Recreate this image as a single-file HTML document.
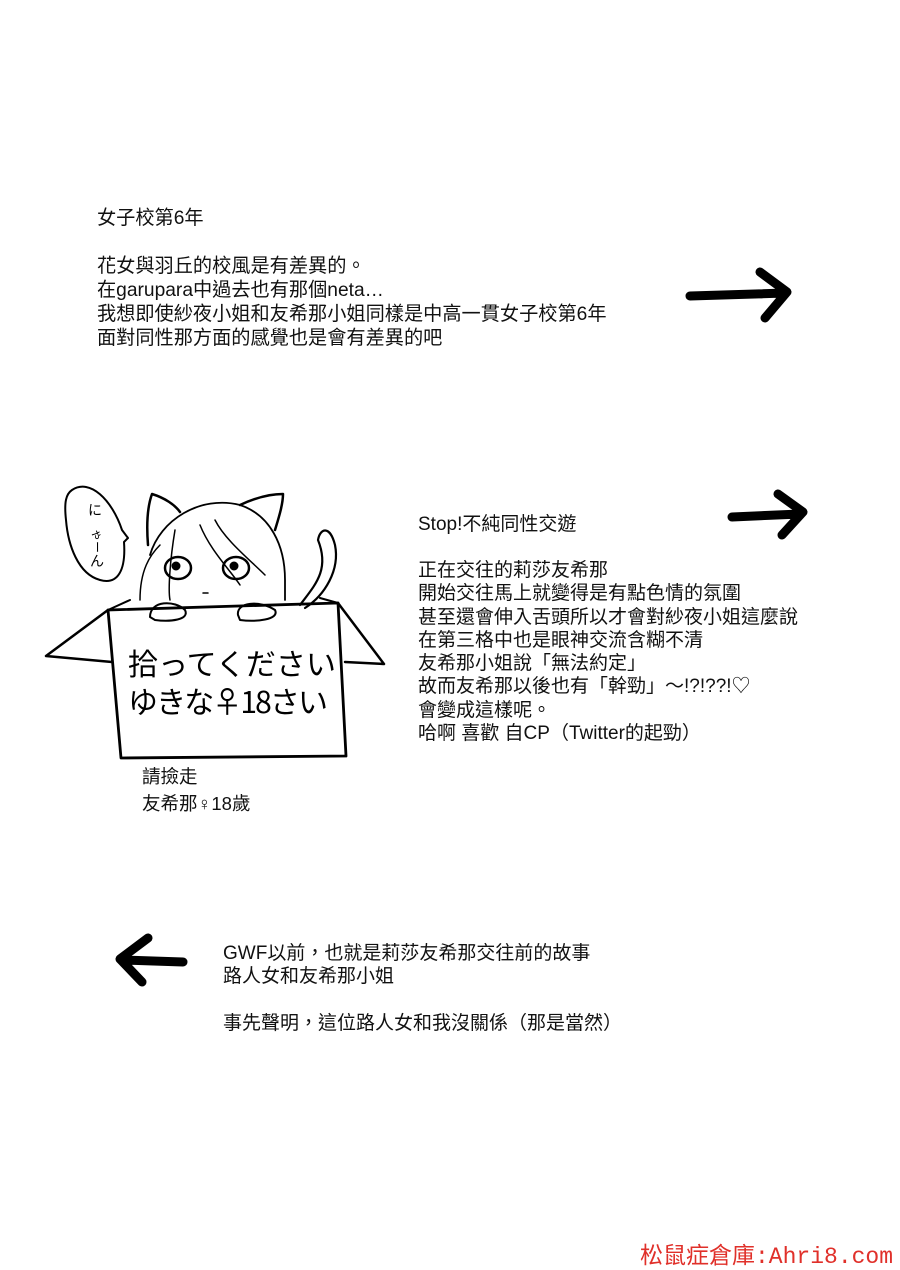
<!DOCTYPE html>
<html><head><meta charset="utf-8"><style>
html,body{margin:0;padding:0;background:#fff;}
body{width:900px;height:1268px;position:relative;overflow:hidden;font-family:"Liberation Sans","Noto Sans CJK TC",sans-serif;color:#111;}
.t{position:absolute;white-space:nowrap;}
.b1{left:97px;font-size:19.2px;line-height:24px;}
.b2{left:418px;font-size:19px;line-height:23.3px;}
.b3{left:142px;font-size:18.5px;line-height:27px;}
.b4{left:223px;font-size:19px;line-height:23px;}
</style></head><body>
<div class="t b1" style="top:207px">女子校第6年</div>
<div class="t b1" style="top:255px">花女與羽丘的校風是有差異的。<br>在garupara中過去也有那個neta…<br>我想即使紗夜小姐和友希那小姐同樣是中高一貫女子校第6年<br>面對同性那方面的感覺也是會有差異的吧</div>

<div class="t b2" style="top:513px">Stop!不純同性交遊</div>
<div class="t b2" style="top:559px">正在交往的莉莎友希那<br>開始交往馬上就變得是有點色情的氛圍<br>甚至還會伸入舌頭所以才會對紗夜小姐這麼說<br>在第三格中也是眼神交流含糊不清<br>友希那小姐說「無法約定」<br>故而友希那以後也有「幹勁」～!?!??!♡<br>會變成這樣呢。<br>哈啊 喜歡 自CP（Twitter的起勁）</div>

<div class="t b3" style="top:763px">請撿走<br>友希那♀18歲</div>

<div class="t b4" style="top:942px">GWF以前，也就是莉莎友希那交往前的故事<br>路人女和友希那小姐</div>
<div class="t b4" style="top:1012px">事先聲明，這位路人女和我沒關係（那是當然）</div>

<div class="t" style="left:640px;top:1236px;font-family:'Liberation Mono','Noto Sans CJK SC',monospace;font-size:23px;color:#e0302a;">松鼠症倉庫:Ahri8.com</div>

<svg width="900" height="1268" style="position:absolute;left:0;top:0" fill="none" stroke="#000" stroke-linecap="round" stroke-linejoin="round">
<path d="M690 296 L785 293 M760 272 L787 292 L765 318" stroke-width="9"/>
<path d="M732 517 L800 514 M778 494 L803 512 L782 535" stroke-width="9"/>
<path d="M183 962 L122 960 M148 938 L120 959 L142 982" stroke-width="9"/>
<path d="M72 490 C90 478 112 500 122 530 L128 538 L124 542 C126 570 118 585 100 580 C78 574 68 545 66 520 C64 502 66 494 72 490 Z" stroke-width="2"/>
<text x="88" y="515" font-size="14" fill="#000" stroke="none" font-family="Noto Sans CJK JP">に</text>
<text x="92" y="540" font-size="12" fill="#000" stroke="none" font-family="Noto Sans CJK JP" transform="rotate(90 98 535)">ゃー</text>
<text x="90" y="566" font-size="14" fill="#000" stroke="none" font-family="Noto Sans CJK JP">ん</text>
<path d="M148 545 C146 520 148 505 152 494 C165 498 175 505 180 512" stroke-width="2.5"/>
<path d="M240 505 C255 498 270 494 283 494 C283 505 278 520 275 530" stroke-width="2.5"/>
<path d="M150 555 C160 520 200 495 240 505 C270 515 285 545 285 580 L285 600" stroke-width="1.8"/>
<path d="M140 600 C140 570 150 555 160 545 M175 530 C170 560 168 590 170 600 M200 525 C210 550 230 570 240 585 M215 520 C225 540 250 560 265 575" stroke-width="1.5"/>
<ellipse cx="178" cy="568" rx="13" ry="11" stroke-width="2.5"/>
<ellipse cx="236" cy="568" rx="13" ry="11" stroke-width="2.5"/>
<circle cx="176" cy="566" r="4" fill="#000"/><circle cx="234" cy="566" r="4" fill="#000"/>
<path d="M203 593 L208 593" stroke-width="1.5"/>
<path d="M300 605 C315 585 330 570 318 540 C320 528 330 525 335 545 C340 570 325 595 305 608" stroke-width="2.2"/>
<path d="M150 617 C150 600 175 600 185 610 C190 620 170 622 155 620 Z" stroke-width="2"/>
<path d="M238 615 C236 602 260 600 275 610 C280 620 255 622 240 620 Z" stroke-width="2"/>
<path d="M108 610 L338 603 L346 756 L121 758 Z" stroke-width="2.8"/>
<path d="M108 610 L46 656 L112 662" stroke-width="2.5"/>
<path d="M338 603 L384 664 L345 662" stroke-width="2.5"/>
<path d="M108 610 L130 600 M338 603 L320 598" stroke-width="2"/>
<text x="128" y="675" font-size="30" fill="#000" stroke="none" font-family="Noto Sans CJK JP" textLength="208">拾ってください</text>
<text x="128" y="713" font-size="30" fill="#000" stroke="none" font-family="Noto Sans CJK JP" textLength="200">ゆきな♀18さい</text>
</svg>
</body></html>
